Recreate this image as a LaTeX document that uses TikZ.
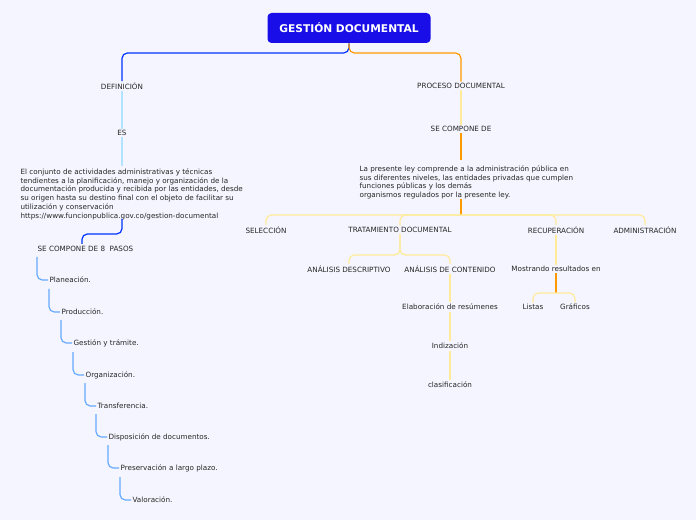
\documentclass[tikz,border=0pt]{standalone}
\usepackage{fontspec}
\setmainfont{DejaVu Sans}
\begin{document}
\begin{tikzpicture}[x=0.75pt,y=-0.75pt,
  lbl/.style={font=\fontsize{5.4}{6.6}\selectfont,text=black!85,inner sep=1pt},
  para/.style={lbl,align=left,anchor=north west},
  bl/.style={draw=blue!80!cyan,line width=0.9pt,rounded corners=4pt},
  bll/.style={draw=blue!35!cyan!30,line width=0.9pt,rounded corners=4pt},
  orr/.style={draw=orange!80!yellow,line width=0.9pt,rounded corners=4pt},
  orl/.style={draw=orange!40!yellow!40,line width=0.9pt,rounded corners=4pt}]
\fill[blue!4] (0,0) rectangle (696,520);
\useasboundingbox (0,0) rectangle (696,520);
\node[fill={rgb,255:red,26;green,14;blue,232},rounded corners=3pt,minimum width=163*0.75pt,minimum height=30*0.75pt,text=white,font=\bfseries\fontsize{8}{9}\selectfont] (t) at (349,28) {GESTIÓN DOCUMENTAL};
\node[lbl] (def) at (122,86) {DEFINICIÓN};
\node[lbl] (pro) at (461,86) {PROCESO DOCUMENTAL};
\draw[bl] (t.south) -- (349,53) -- (122,53) -- (def.north);
\draw[orr] (t.south) -- (349,53) -- (461,53) -- (pro.north);
\node[lbl] (es) at (122,133) {ES};
\draw[bll] (def.south) -- (es.north);
\node[para] (dtx) at (19,167) {El conjunto de actividades administrativas y técnicas\\tendientes a la planificación, manejo y organización de la\\documentación producida y recibida por las entidades, desde\\su origen hasta su destino final con el objeto de facilitar su\\utilización y conservación\\https://www.funcionpublica.gov.co/gestion-documental};
\draw[bll] (es.south) -- (122,166);
\node[lbl,anchor=west] (sc8) at (36,249) {SE COMPONE DE 8 \ PASOS};
\draw[bl] (122,219) -- (122,234) -- (82,234) -- (82,244);
\foreach \n/\x/\y/\t [count=\i] in {p1/48/280/Planeación., p2/60/312/Producción., p3/72/343/Gestión y trámite., p4/84/375/Organización., p5/96/406/Transferencia., p6/107/437/Disposición de documentos., p7/119/468/Preservación a largo plazo., p8/131/500/Valoración.}{
  \node[lbl,anchor=west] (\n) at (\x,\y) {\t};
  \pgfmathsetmacro{\px}{\x-11}
  \pgfmathsetmacro{\py}{\y-23}
  \draw[bl,draw=blue!55!cyan!60] (\px,\py) -- (\px,\y) -- (\n.west);
}
\node[lbl] (scd) at (461,129) {SE COMPONE DE};
\draw[orl] (pro.south) -- (scd.north);
\node[para] (ptx) at (358,164) {La presente ley comprende a la administración pública en\\sus diferentes niveles, las entidades privadas que cumplen\\funciones públicas y los demás\\organismos regulados por la presente ley.};
\draw[orr] (scd.south) -- (461,160);
\node[lbl] (sel) at (266,230) {SELECCIÓN};
\node[lbl] (tra) at (400,230) {TRATAMIENTO DOCUMENTAL};
\node[lbl] (rec) at (556,230) {RECUPERACIÓN};
\node[lbl] (adm) at (645,230) {ADMINISTRACIÓN};
\draw[orr] (461,199) -- (461,215);
\foreach \n/\x in {sel/266,tra/400,rec/556,adm/645}
  \draw[orl] (461,215) -- (\x,215) -- (\n.north);
\node[lbl] (ad) at (349,269) {ANÁLISIS DESCRIPTIVO};
\node[lbl] (ac) at (450,269) {ANÁLISIS DE CONTENIDO};
\foreach \n/\x in {ad/349,ac/450}
  \draw[orl] (tra.south) -- (400,255) -- (\x,255) -- (\n.north);
\node[lbl] (mr) at (556,269) {Mostrando resultados en};
\draw[orl] (rec.south) -- (mr.north);
\node[lbl] (el) at (450,307) {Elaboración de resúmenes};
\node[lbl] (in) at (450,346) {Indización};
\node[lbl] (cl) at (450,385) {clasificación};
\draw[orl] (ac.south) -- (el.north);
\draw[orl] (el.south) -- (in.north);
\draw[orl] (in.south) -- (cl.north);
\node[lbl] (li) at (533,307) {Listas};
\node[lbl] (gr) at (575,307) {Gráficos};
\draw[orr] (mr.south) -- (556,293);
\foreach \n/\x in {li/533,gr/575}
  \draw[orl] (556,293) -- (\x,293) -- (\n.north);
\end{tikzpicture}
\end{document}
